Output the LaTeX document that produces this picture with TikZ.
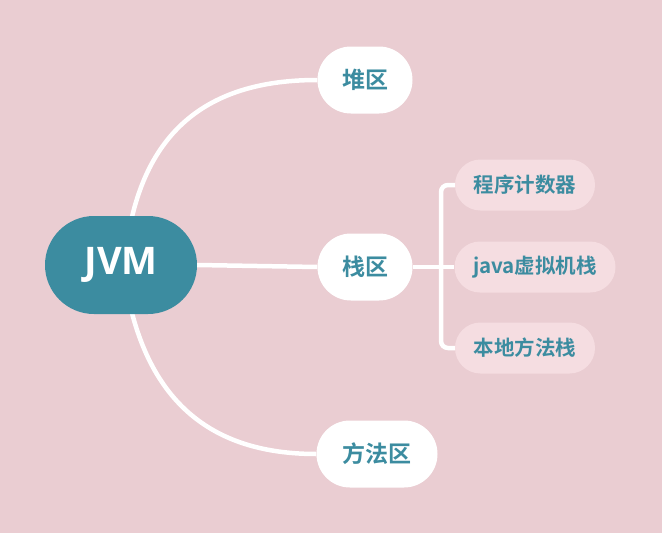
\documentclass[tikz,border=0pt]{standalone}
\usepackage{fontspec}
\setmainfont{Noto Sans CJK SC}[BoldFont={* Bold}]
\newfontfamily\jvmfont{Open Sans}[BoldFont={* Bold}]
\usetikzlibrary{backgrounds}
\definecolor{bgpink}{HTML}{EACDD2}
\definecolor{teal}{HTML}{3C8CA0}
\definecolor{subpink}{HTML}{F5DDE1}
\tikzset{
  mainbox/.style={draw=none, fill=white, minimum height=67pt, rounded corners=33.5pt, inner sep=0pt, text=teal, font=\fontsize{23}{27}\selectfont\bfseries},
  subbox/.style={draw=none, fill=subpink, minimum height=51pt, rounded corners=25.5pt, inner sep=0pt, text=teal, font=\fontsize{20.5}{24}\selectfont\bfseries},
  rootbox/.style={draw=none, fill=teal, minimum width=152pt, minimum height=98pt, rounded corners=49pt, inner sep=0pt, text=white, font=\jvmfont\fontsize{38}{42}\selectfont\bfseries},
  link/.style={draw=white, line width=4.5pt}
}
\begin{document}
\begin{tikzpicture}[x=1pt,y=-1pt]
\node[rootbox] (jvm) at (121,265) {JVM};
\node[mainbox, minimum width=95pt] (heap) at (365,80) {堆区};
\node[mainbox, minimum width=95pt] (stack) at (365,267) {栈区};
\node[mainbox, minimum width=121pt] (method) at (377,454) {方法区};
\node[subbox, minimum width=140pt] (pc) at (525,185) {程序计数器};
\node[subbox, minimum width=161pt] (jvs) at (535,267) {java虚拟机栈};
\node[subbox, minimum width=140pt] (nms) at (525,348) {本地方法栈};
\coordinate (jt) at (132,217);
\coordinate (jb) at (132,313);
\coordinate (fork) at (441,267);
\begin{scope}[on background layer]
\fill[bgpink] (0,0) rectangle (662,533);
\draw[link] (jt) .. controls (155,120) and (220,80) .. (heap.west);
\draw[link] (jb) .. controls (158,412) and (222,454) .. (method.west);
\draw[link] (jvm.east) -- (stack.west);
\draw[link] (stack.east) -- (fork) -- (jvs.west);
\draw[link, rounded corners=7pt] (pc.west) -- (pc.west -| fork) -- (nms.west -| fork) -- (nms.west);
\end{scope}
\useasboundingbox (0,0) rectangle (662,533);
\end{tikzpicture}
\end{document}
